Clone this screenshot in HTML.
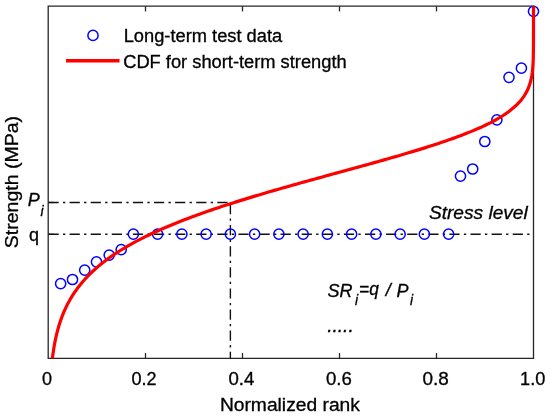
<!DOCTYPE html>
<html><head><meta charset="utf-8"><style>
html,body{margin:0;padding:0;background:#fff;}
svg{display:block;will-change:transform;}
text{font-family:"Liberation Sans",sans-serif;fill:#000;stroke:#000;stroke-width:0.3px;}
</style></head><body>
<svg width="550" height="417" viewBox="0 0 550 417">
<rect width="550" height="417" fill="#fff"/>
<g stroke="#262626" stroke-width="1.3" fill="none">
<path d="M48.2,358.3 L48.2,6.2 L533.5,6.2 L533.5,358.3 Z"/>
<line x1="145.50" y1="358.3" x2="145.50" y2="353.1"/><line x1="145.50" y1="6.2" x2="145.50" y2="11.4"/><line x1="242.50" y1="358.3" x2="242.50" y2="353.1"/><line x1="242.50" y1="6.2" x2="242.50" y2="11.4"/><line x1="339.50" y1="358.3" x2="339.50" y2="353.1"/><line x1="339.50" y1="6.2" x2="339.50" y2="11.4"/><line x1="436.50" y1="358.3" x2="436.50" y2="353.1"/><line x1="436.50" y1="6.2" x2="436.50" y2="11.4"/>
<line x1="48.5" y1="202.50" x2="53.7" y2="202.50"/>
<line x1="48.5" y1="234.3" x2="53.7" y2="234.3"/>
</g>
<g stroke="#111" stroke-width="1.4" fill="none" stroke-dasharray="10.2 4.3 2.3 4.3">
<line x1="48.5" y1="202.50" x2="230.38" y2="202.50"/>
<line x1="48.5" y1="234.3" x2="533.5" y2="234.3"/>
<line x1="230.38" y1="204" x2="230.38" y2="358.3"/>
</g>
<g stroke="#0000ff" stroke-width="1.5" fill="none">
<circle cx="60.65" cy="283.60" r="5.1"/>
<circle cx="72.50" cy="279.50" r="5.1"/>
<circle cx="84.70" cy="270.10" r="5.1"/>
<circle cx="96.50" cy="261.80" r="5.1"/>
<circle cx="109.20" cy="255.10" r="5.1"/>
<circle cx="121.20" cy="249.60" r="5.1"/>
<circle cx="133.38" cy="234.15" r="5.1"/>
<circle cx="157.62" cy="234.15" r="5.1"/>
<circle cx="181.88" cy="234.15" r="5.1"/>
<circle cx="206.12" cy="234.15" r="5.1"/>
<circle cx="230.38" cy="234.15" r="5.1"/>
<circle cx="254.62" cy="234.15" r="5.1"/>
<circle cx="278.88" cy="234.15" r="5.1"/>
<circle cx="303.12" cy="234.15" r="5.1"/>
<circle cx="327.38" cy="234.15" r="5.1"/>
<circle cx="351.62" cy="234.15" r="5.1"/>
<circle cx="375.88" cy="234.15" r="5.1"/>
<circle cx="400.13" cy="234.15" r="5.1"/>
<circle cx="424.38" cy="234.15" r="5.1"/>
<circle cx="448.62" cy="234.15" r="5.1"/>
<circle cx="460.50" cy="176.10" r="5.1"/>
<circle cx="472.70" cy="169.00" r="5.1"/>
<circle cx="484.80" cy="141.50" r="5.1"/>
<circle cx="496.90" cy="119.80" r="5.1"/>
<circle cx="509.00" cy="77.30" r="5.1"/>
<circle cx="521.40" cy="68.20" r="5.1"/>
<circle cx="533.50" cy="11.30" r="5.1"/>
<circle cx="93.0" cy="35.4" r="5.1"/>
</g>
<path d="M52.38,358.30 L52.79,355.09 L53.21,352.16 L53.62,349.45 L54.04,346.93 L54.46,344.57 L54.87,342.36 L55.29,340.27 L55.70,338.30 L56.12,336.42 L56.54,334.64 L56.95,332.93 L57.37,331.30 L57.78,329.74 L58.20,328.24 L58.61,326.79 L59.03,325.40 L59.45,324.06 L59.86,322.76 L60.28,321.50 L60.69,320.28 L61.11,319.10 L61.52,317.95 L61.94,316.83 L62.36,315.75 L62.77,314.69 L63.19,313.66 L63.60,312.66 L64.02,311.68 L64.43,310.72 L64.85,309.78 L65.27,308.87 L65.68,307.97 L66.10,307.10 L66.51,306.24 L66.93,305.40 L67.35,304.58 L67.76,303.77 L68.18,302.98 L68.59,302.20 L69.01,301.44 L69.42,300.69 L69.84,299.95 L70.26,299.23 L70.67,298.51 L71.09,297.81 L71.50,297.12 L71.92,296.44 L72.33,295.78 L72.75,295.12 L75.19,291.45 L77.63,288.06 L80.07,284.91 L82.50,281.96 L84.94,279.19 L87.38,276.58 L89.82,274.11 L92.26,271.75 L94.70,269.51 L97.14,267.36 L99.57,265.30 L102.01,263.32 L104.45,261.42 L106.89,259.59 L109.33,257.82 L111.77,256.10 L114.21,254.44 L116.64,252.83 L119.08,251.26 L121.52,249.74 L123.96,248.26 L126.40,246.82 L128.84,245.41 L131.28,244.04 L133.71,242.69 L136.15,241.38 L138.59,240.10 L141.03,238.84 L143.47,237.61 L145.91,236.40 L148.34,235.21 L150.78,234.05 L153.22,232.91 L155.66,231.79 L158.10,230.68 L160.54,229.60 L162.98,228.53 L165.41,227.47 L167.85,226.44 L170.29,225.42 L172.73,224.41 L175.17,223.42 L177.61,222.44 L180.05,221.47 L182.48,220.52 L184.92,219.58 L187.36,218.65 L189.80,217.73 L192.24,216.82 L194.68,215.92 L197.12,215.03 L199.55,214.15 L201.99,213.28 L204.43,212.42 L206.87,211.56 L209.31,210.72 L211.75,209.88 L214.19,209.05 L216.62,208.23 L219.06,207.41 L221.50,206.60 L223.94,205.80 L226.38,205.01 L228.82,204.22 L231.26,203.44 L233.69,202.66 L236.13,201.89 L238.57,201.12 L241.01,200.36 L243.45,199.60 L245.89,198.85 L248.33,198.11 L250.76,197.36 L253.20,196.63 L255.64,195.89 L258.08,195.16 L260.52,194.44 L262.96,193.71 L265.40,193.00 L267.83,192.28 L270.27,191.57 L272.71,190.86 L275.15,190.16 L277.59,189.45 L280.03,188.75 L282.47,188.06 L284.90,187.36 L287.34,186.67 L289.78,185.98 L292.22,185.29 L294.66,184.61 L297.10,183.92 L299.53,183.24 L301.97,182.56 L304.41,181.88 L306.85,181.20 L309.29,180.53 L311.73,179.86 L314.17,179.18 L316.60,178.51 L319.04,177.84 L321.48,177.17 L323.92,176.50 L326.36,175.83 L328.80,175.16 L331.24,174.49 L333.67,173.83 L336.11,173.16 L338.55,172.49 L340.99,171.82 L343.43,171.16 L345.87,170.49 L348.31,169.82 L350.74,169.15 L353.18,168.48 L355.62,167.81 L358.06,167.14 L360.50,166.47 L362.94,165.79 L365.38,165.12 L367.81,164.44 L370.25,163.77 L372.69,163.09 L375.13,162.41 L377.57,161.72 L380.01,161.04 L382.45,160.35 L384.88,159.66 L387.32,158.97 L389.76,158.27 L392.20,157.57 L394.64,156.87 L397.08,156.17 L399.52,155.46 L401.95,154.74 L404.39,154.03 L406.83,153.31 L409.27,152.58 L411.71,151.85 L414.15,151.11 L416.59,150.37 L419.02,149.63 L421.46,148.88 L423.90,148.12 L426.34,147.35 L428.78,146.58 L431.22,145.80 L433.66,145.01 L436.09,144.22 L438.53,143.41 L440.97,142.60 L443.41,141.78 L445.85,140.94 L448.29,140.10 L450.72,139.24 L453.16,138.37 L455.60,137.49 L458.04,136.59 L460.48,135.68 L462.92,134.76 L465.36,133.81 L467.79,132.85 L470.23,131.87 L472.67,130.86 L475.11,129.84 L477.55,128.79 L479.99,127.71 L482.43,126.60 L484.86,125.46 L487.30,124.29 L489.74,123.07 L492.18,121.82 L494.62,120.51 L497.06,119.16 L499.50,117.74 L501.93,116.25 L504.37,114.68 L506.81,113.03 L509.25,111.26 L516.04,105.57 L520.93,100.38 L524.45,95.58 L526.98,91.14 L528.81,86.99 L530.12,83.10 L531.07,79.44 L531.75,75.97 L532.24,72.69 L532.59,69.56 L532.85,66.58 L533.03,63.74 L533.16,61.01 L533.26,58.39 L533.32,55.87 L533.37,53.44 L533.41,51.11 L533.43,48.85 L533.45,46.66 L533.47,44.54 L533.48,42.49 L533.48,40.50 L533.49,38.57 L533.49,36.69 L533.49,34.86 L533.50,33.08 L533.50,31.35 L533.50,29.65 L533.50,28.00 L533.50,26.39 L533.50,24.81 L533.50,23.27 L533.50,21.77 L533.50,20.29 L533.50,18.85 L533.50,17.43 L533.50,16.04 L533.50,14.68 L533.50,13.35 L533.50,12.04 L533.50,10.76 L533.50,9.49 L533.50,8.25 L533.50,7.04 L533.50,6.20 L533.50,6.20 L533.50,6.20 L533.50,6.20 L533.50,6.20 L533.50,6.20 L533.50,6.20 L533.50,6.20 L533.50,6.20 L533.50,6.20 L533.50,6.20 L533.50,6.20 L533.50,6.20 L533.50,6.20 L533.50,6.20 L533.50,6.20 L533.50,6.20 L533.50,6.20 L533.50,6.20 L533.50,6.20 L533.50,6.20 L533.50,6.20 L533.50,6.20 L533.50,6.20 L533.50,6.20 L533.50,6.20 L533.50,6.20 L533.50,6.20 L533.50,6.20 L533.50,6.20 L533.50,6.20 L533.50,6.20 L533.50,6.20 L533.50,6.20 L533.50,6.20 L533.50,6.20 L533.50,6.20 L533.50,6.20 L533.50,6.20 L533.50,6.20 L533.50,6.20 L533.50,6.20 L533.50,6.20 L533.50,6.20 L533.50,6.20 L533.50,6.20" stroke="#ff0000" stroke-width="3.2" fill="none" stroke-linejoin="round"/>
<line x1="66.0" y1="60.8" x2="119.5" y2="60.8" stroke="#ff0000" stroke-width="3.4"/>
<text x="123.70" y="42.00" font-size="18" textLength="158.52" lengthAdjust="spacingAndGlyphs">Long-term test data</text>
<text x="123.20" y="67.50" font-size="18" textLength="223.50" lengthAdjust="spacingAndGlyphs">CDF for short-term strength</text>
<text x="219.90" y="411.00" font-size="18" textLength="139.99" lengthAdjust="spacingAndGlyphs">Normalized rank</text>
<text x="428.90" y="219.00" font-size="18" font-style="italic" textLength="98.85" lengthAdjust="spacingAndGlyphs">Stress level</text>
<text transform="translate(17.60,248.20) rotate(-90)" font-size="18" textLength="132.22" lengthAdjust="spacingAndGlyphs">Strength (MPa)</text>
<text x="42.10" y="385.00" font-size="18" textLength="10.02" lengthAdjust="spacingAndGlyphs">0</text>
<text x="131.50" y="385.00" font-size="18" textLength="25.09" lengthAdjust="spacingAndGlyphs">0.2</text>
<text x="228.40" y="385.00" font-size="18" textLength="25.88" lengthAdjust="spacingAndGlyphs">0.4</text>
<text x="325.90" y="385.00" font-size="18" textLength="25.88" lengthAdjust="spacingAndGlyphs">0.6</text>
<text x="422.60" y="385.00" font-size="18" textLength="26.30" lengthAdjust="spacingAndGlyphs">0.8</text>
<text x="520.10" y="385.00" font-size="18" textLength="25.26" lengthAdjust="spacingAndGlyphs">1.0</text>
<text x="27.80" y="206.00" font-size="18" font-style="italic" textLength="12.02" lengthAdjust="spacingAndGlyphs">P</text>
<text x="40.50" y="215.50" font-size="14" font-style="italic" textLength="3.12" lengthAdjust="spacingAndGlyphs">i</text>
<text x="29.00" y="240.50" font-size="18" textLength="10.02" lengthAdjust="spacingAndGlyphs">q</text>
<text x="327.50" y="296.50" font-size="18" font-style="italic" textLength="25.02" lengthAdjust="spacingAndGlyphs">SR</text>
<text x="354.90" y="305.00" font-size="14" font-style="italic" textLength="3.12" lengthAdjust="spacingAndGlyphs">i</text>
<text x="359.10" y="294.80" font-size="18" font-style="italic" textLength="19.73" lengthAdjust="spacingAndGlyphs">=q</text>
<text x="385.80" y="295.50" font-size="18" font-style="italic" textLength="5.02" lengthAdjust="spacingAndGlyphs">/</text>
<text x="396.60" y="296.50" font-size="18" font-style="italic" textLength="12.02" lengthAdjust="spacingAndGlyphs">P</text>
<text x="410.10" y="305.00" font-size="14" font-style="italic" textLength="3.12" lengthAdjust="spacingAndGlyphs">i</text>
<text x="327.20" y="332.20" font-size="18" font-style="italic" textLength="26.57" lengthAdjust="spacingAndGlyphs">.....</text>
</svg>
</body></html>
